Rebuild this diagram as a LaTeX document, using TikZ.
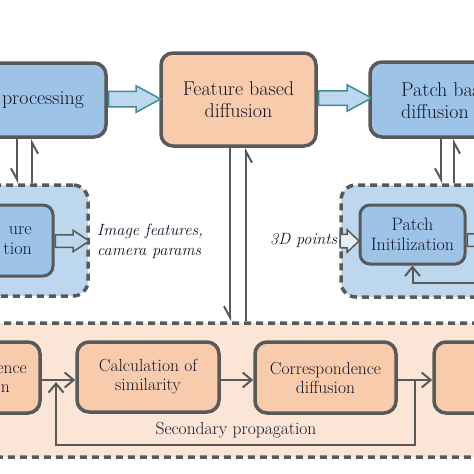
\documentclass[tikz,border=0pt]{standalone}
\usetikzlibrary{arrows.meta,shapes.arrows,calc}
\definecolor{lineg}{HTML}{595959}
\definecolor{textc}{HTML}{141428}
\definecolor{bluef}{HTML}{9DC3E6}
\definecolor{bluereg}{HTML}{BDD7EE}
\definecolor{orf}{HTML}{F8CBAD}
\definecolor{orlight}{HTML}{FBE5D6}
\definecolor{tealc}{HTML}{3E8E93}
\tikzset{
  box/.style={draw=lineg, line width=3.5pt, rounded corners=12pt, inner sep=0pt, align=center, text=textc},
  bluebox/.style={box, fill=bluef},
  orbox/.style={box, fill=orf},
  innerbox/.style={box, line width=3pt, rounded corners=10pt, fill=bluef},
  region/.style={draw=lineg, line width=3.5pt, dash pattern=on 7pt off 5pt, rounded corners=15pt, inner sep=0pt},
  conn/.style={draw=lineg, line width=2pt},
  harp/.style={conn, -{Straight Barb[right,length=11pt,width=12pt]}},
  varr/.style={conn, -{Straight Barb[length=9pt,width=15pt]}},
  hollow/.style={single arrow, anchor=tail, draw=tealc, fill=bluereg, line width=1.5pt, inner xsep=0pt, text height=0pt, text depth=0pt},
  txt/.style={text=textc, inner sep=0pt, align=left},
  bigf/.style={font=\fontsize{20}{22}\selectfont},
  midf/.style={font=\fontsize{18}{20}\selectfont},
  smf/.style={font=\fontsize{17.5}{19}\selectfont},
  itf/.style={font=\itshape\fontsize{16.3}{20}\selectfont},
}
\begin{document}
\begin{tikzpicture}[x=1pt,y=-1pt]
\useasboundingbox (0,0) rectangle (474,474);
\clip (0,0) rectangle (474,474);

% regions
\node[region, fill=bluereg, minimum width=128pt, minimum height=111pt] (lreg) at (24,240.5) {};
\node[region, fill=bluereg, minimum width=219pt, minimum height=112pt] (rreg) at (450.5,241) {};
\node[region, fill=orlight, minimum width=514pt, minimum height=134pt] (breg) at (237,390) {};

% top row
\node[bluebox, bigf, minimum width=126pt, minimum height=74pt] (proc) at (43,100) {processing};
\node[orbox, bigf, minimum width=155pt, minimum height=93pt] (feat) at (238.5,99.5) {Feature based\\diffusion};
\node[bluebox, minimum width=230pt, minimum height=75pt] (patch) at (485,99.5) {};
\node[txt, bigf, anchor=west] (patchtxt) at (401,101) {Patch based\\diffusion};

% inner boxes
\node[innerbox, minimum width=80pt, minimum height=71pt] (fext) at (13,240.5) {};
\node[txt, midf, anchor=east, align=right] (fexttxt) at (32,241) {ure\\tion};
\node[innerbox, midf, minimum width=105pt, minimum height=59pt] (pinit) at (412.5,234.5) {Patch\\Initilization};

% labels
\node[txt, itf, anchor=west] (imgf) at (97,241) {Image features,\\camera params};
\node[txt, itf, anchor=base west] (pts) at (270,244) {3D points};

% bottom row
\node[orbox, minimum width=100pt, minimum height=71pt] (lb) at (-10,377.5) {};
\node[txt, smf, anchor=base east] (lbt1) at (27,373) {ence};
\node[txt, smf, anchor=base east] (lbt2) at (10,392) {n};
\node[orbox, smf, minimum width=142pt, minimum height=70pt] (calc) at (148,377) {Calculation of\\similarity};
\node[orbox, smf, minimum width=141pt, minimum height=71pt] (corr) at (325.5,377.5) {Correspondence\\diffusion};
\node[orbox, minimum width=140pt, minimum height=71pt] (rb) at (504,377.5) {};
\node[txt, smf, anchor=base] (sec) at (236,434) {Secondary propagation};

% hollow arrows
\node[hollow, minimum height=52pt, inner ysep=7pt, single arrow head extend=5.5pt, single arrow tip angle=57] (ha1) at (proc.east |- 0,99) {};
\node[hollow, minimum height=53pt, inner ysep=6.5pt, single arrow head extend=6pt, single arrow tip angle=57] (ha2) at (feat.east |- 0,98) {};
\node[hollow, draw=lineg, minimum height=34pt, inner ysep=5.5pt, single arrow head extend=4.5pt, single arrow tip angle=67] (ha3) at (fext.east |- 0,241) {};
\node[hollow, draw=lineg, fill=white!60!bluereg, minimum height=19pt, inner ysep=6pt, single arrow head extend=4.5pt, single arrow tip angle=87] (ha4) at (rreg.west |- 0,241) {};
\node[hollow, draw=lineg, minimum height=34pt, inner ysep=5.5pt, single arrow head extend=4.5pt, single arrow tip angle=67] (ha5) at (pinit.east |- 0,240) {};

% vertical harpoons
\draw[harp] (17,0 |- proc.south) -- (17,0 |- lreg.north);
\draw[harp] (32,0 |- lreg.north) -- (32,0 |- proc.south);
\draw[harp] (230,0 |- feat.south) -- (230,0 |- breg.north);
\draw[harp] (246,0 |- breg.north) -- (246,0 |- feat.south);
\draw[harp] (441,0 |- patch.south) -- (441,0 |- rreg.north);
\draw[harp] (454,0 |- rreg.north) -- (454,0 |- patch.south);

% patch init feedback
\coordinate (pf1) at (490,283);
\draw[varr] (pf1) -- (pinit.south |- pf1) -- (pinit.south);

% bottom connectors
\draw[varr] (lb.east |- 0,380) -- (calc.west |- 0,380);
\draw[varr] (calc.east |- 0,380) -- (corr.west |- 0,380);
\draw[varr] (corr.east |- 0,380) -- (rb.west |- 0,380);
\coordinate (s1) at (415,380);
\coordinate (s2) at (415,445);
\coordinate (s3) at (56,445);
\coordinate (s4) at (56,382);
\draw[varr] (s1) -- (s2) -- (s3) -- (s4);
\end{tikzpicture}
\end{document}
